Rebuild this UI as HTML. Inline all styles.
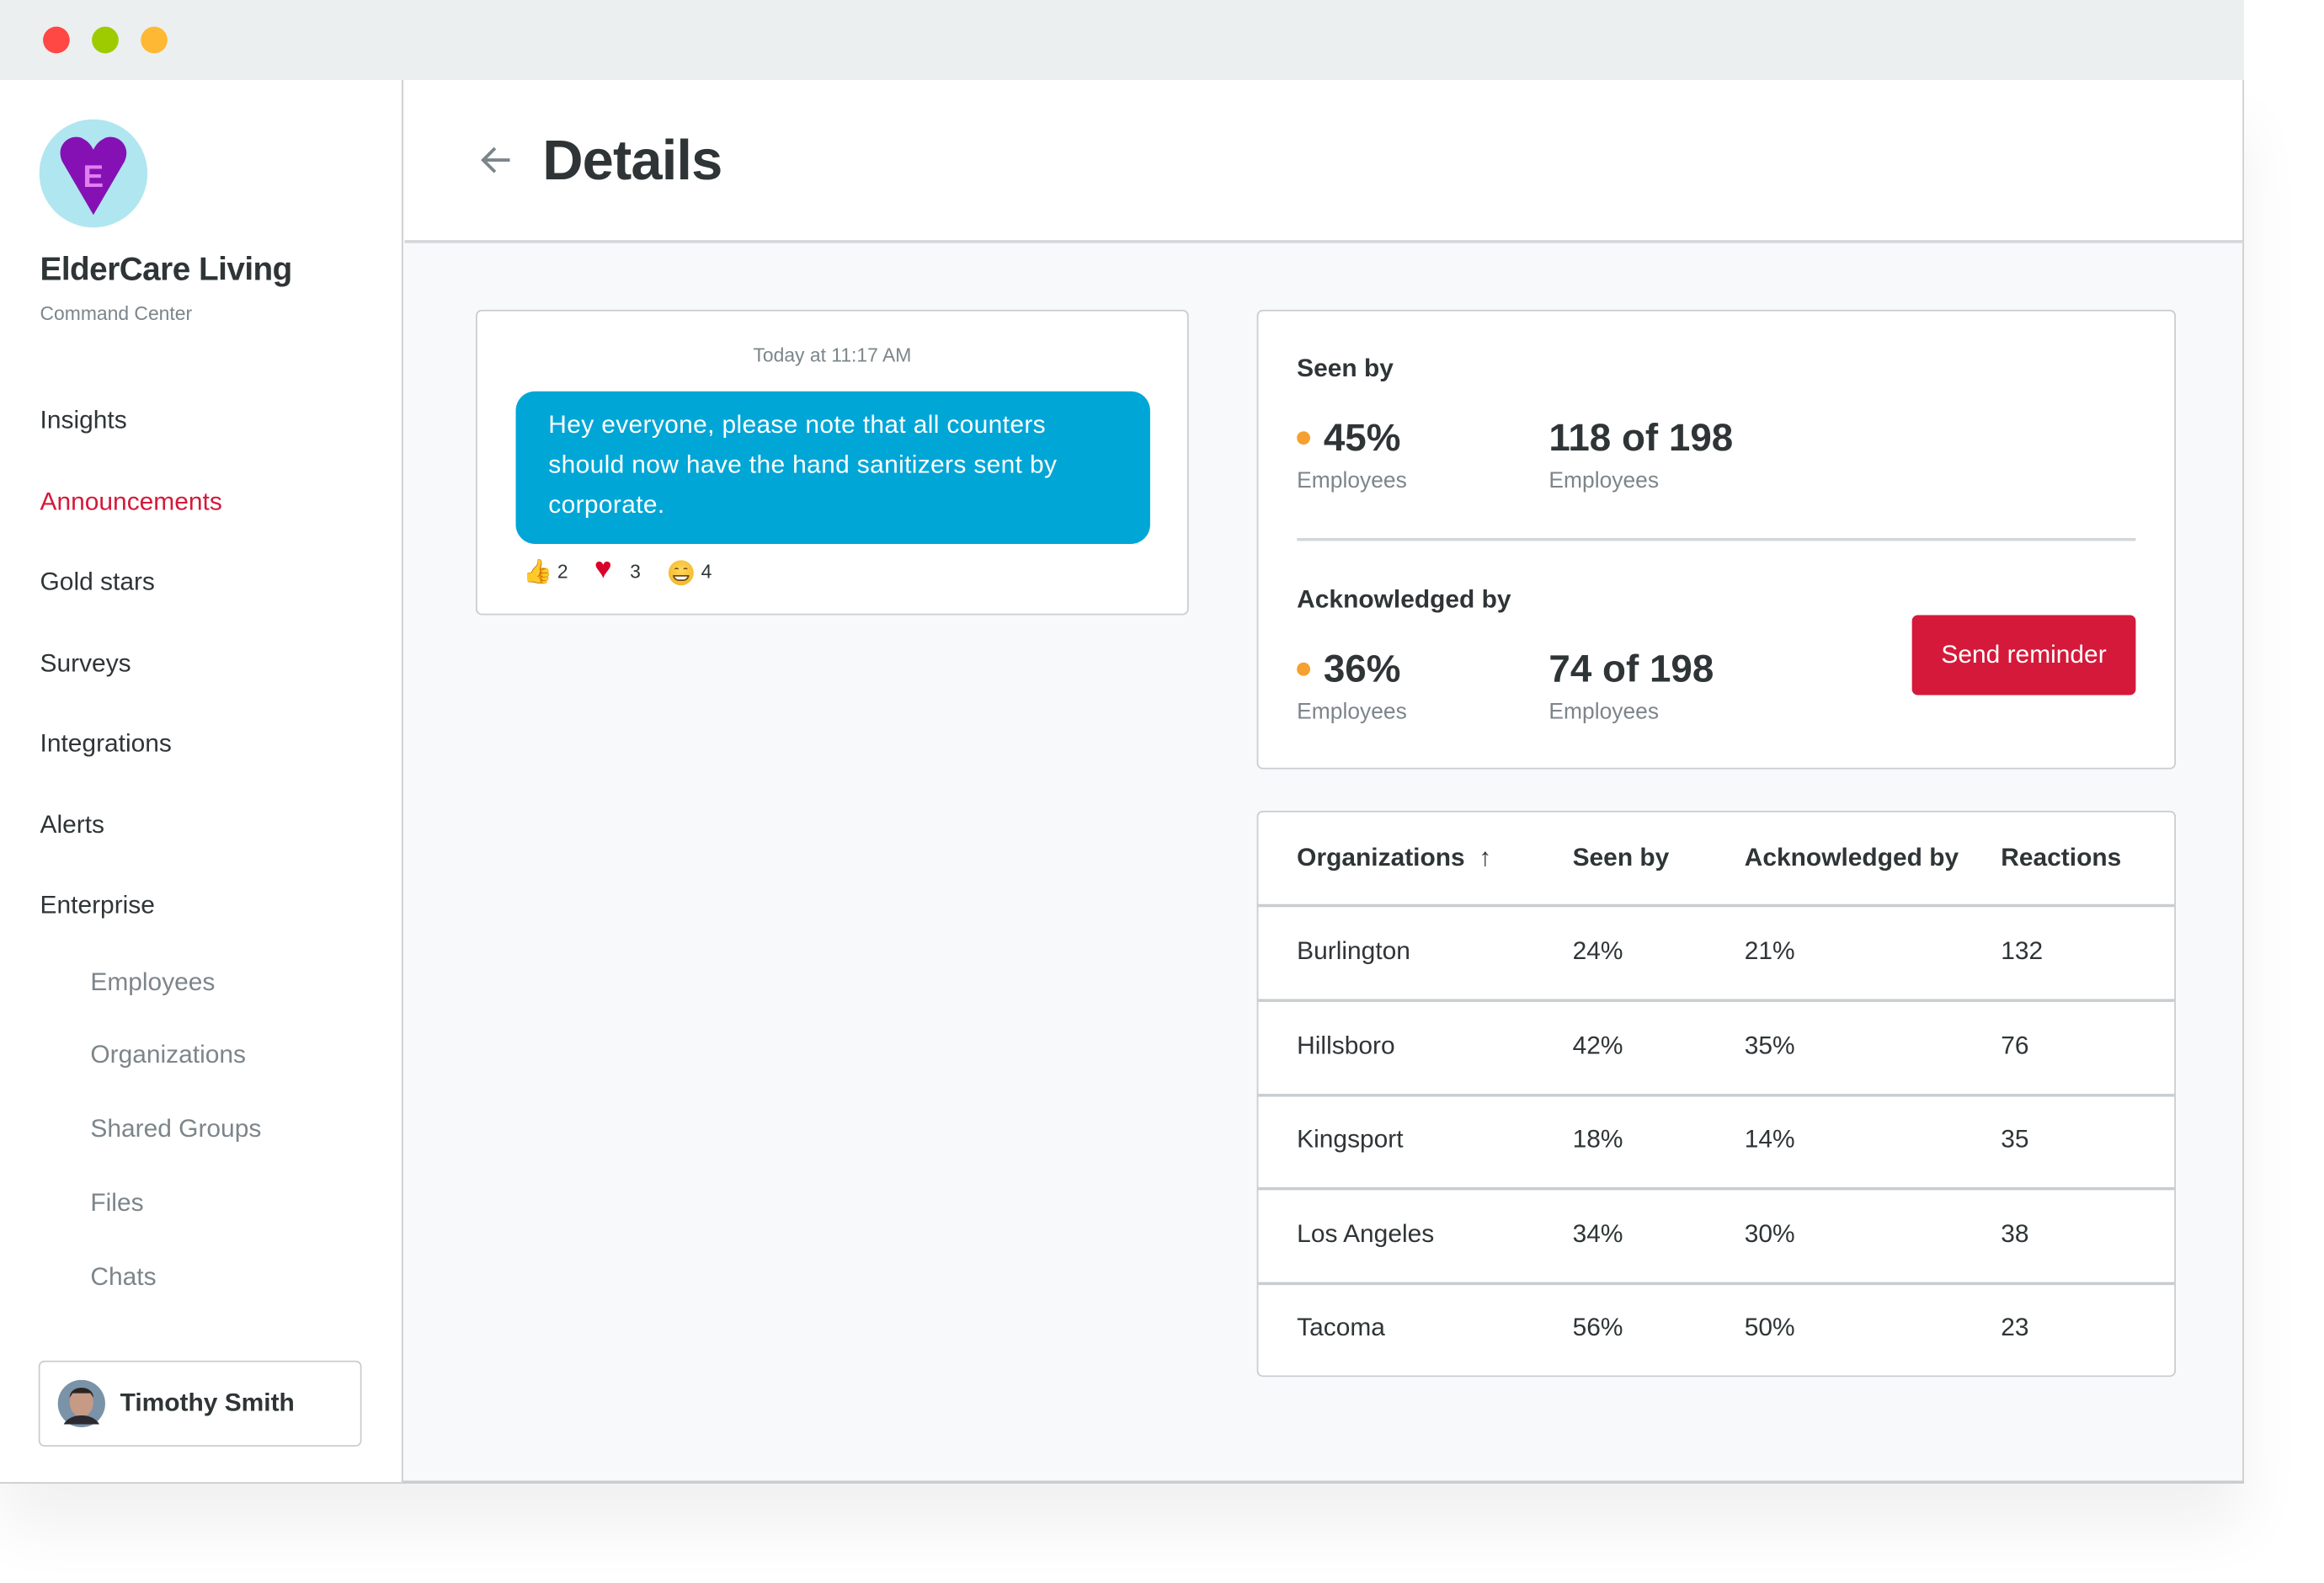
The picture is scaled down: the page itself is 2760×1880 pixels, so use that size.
<!DOCTYPE html>
<html><head><meta charset="utf-8"><style>
html,body{margin:0;padding:0;background:#fff;width:2760px;height:1880px;overflow:hidden;}
#s{position:absolute;left:0;top:0;width:1568px;height:1068px;transform:scale(1.7602);transform-origin:0 0;font-family:"Liberation Sans",sans-serif;color:#2f3537;}
.a{position:absolute;white-space:nowrap;}
.shadow{position:absolute;left:0;top:54px;width:1514px;height:947px;box-shadow:0 30px 40px rgba(0,0,0,0.06);}
.nav{font-size:17px;color:#2f3537;left:27px;}
.sub{font-size:17px;color:#7c858a;left:61px;}
.card{position:absolute;background:#fff;border:1px solid #c9cdd0;border-radius:4px;box-sizing:border-box;}
.lbl{font-size:15px;color:#7c858a;}
.big{font-size:26px;font-weight:bold;}
.th{font-size:17px;font-weight:bold;}
.td{font-size:17px;}
.row{position:absolute;left:0;width:619px;height:1px;background:#c9cdd0;}
.dot{position:absolute;width:9px;height:9px;border-radius:50%;background:#f5a030;}
</style></head><body><div id="s">
<div class="shadow"></div>
<div class="a" style="left:0;top:0;width:1514px;height:54px;background:#ebeff0;"></div>
<div class="a" style="left:29px;top:18px;width:18px;height:18px;border-radius:50%;background:#ff4744;"></div>
<div class="a" style="left:62px;top:18px;width:18px;height:18px;border-radius:50%;background:#9dcb00;"></div>
<div class="a" style="left:95px;top:18px;width:18px;height:18px;border-radius:50%;background:#ffb833;"></div>
<div class="a" style="left:0;top:54px;width:1514px;height:947px;background:#f8f9fa;border-right:1px solid #c9cdd0;border-bottom:2px solid #c9cdd0;box-sizing:border-box;"></div>
<!-- sidebar -->
<div class="a" style="left:0;top:54px;width:272px;height:946px;background:#fff;border-right:1px solid #c9cdd0;box-sizing:border-box;"></div>
<svg class="a" style="left:26px;top:80px" width="74" height="74" viewBox="0 0 74 74"><circle cx="37" cy="37" r="36.5" fill="#b0e6f0"/><path d="M37 65 L16 29 C11 18 21 10 29 13 C33 15 35 17 37 21 C39 17 41 15 45 13 C53 10 63 18 58 29 Z" fill="#8511b5"/><text x="37" y="46" font-family="Liberation Sans" font-weight="bold" font-size="21" fill="#e07ff0" text-anchor="middle">E</text></svg>
<div class="a" style="left:27px;top:169px;font-size:22px;font-weight:bold;letter-spacing:-0.3px;">ElderCare Living</div>
<div class="a" style="left:27px;top:204px;font-size:13px;color:#7c858a;">Command Center</div>
<div class="a nav" style="top:274px;">Insights</div>
<div class="a nav" style="top:329px;color:#d4193a;">Announcements</div>
<div class="a nav" style="top:383px;">Gold stars</div>
<div class="a nav" style="top:438px;">Surveys</div>
<div class="a nav" style="top:492px;">Integrations</div>
<div class="a nav" style="top:547px;">Alerts</div>
<div class="a nav" style="top:601px;">Enterprise</div>
<div class="a sub" style="top:653px;">Employees</div>
<div class="a sub" style="top:702px;">Organizations</div>
<div class="a sub" style="top:752px;">Shared Groups</div>
<div class="a sub" style="top:802px;">Files</div>
<div class="a sub" style="top:852px;">Chats</div>
<div class="card" style="left:26px;top:918px;width:218px;height:58px;"></div>
<svg class="a" style="left:39px;top:931px" width="32" height="32"><circle cx="16" cy="16" r="16" fill="#7a93a8"/><ellipse cx="16" cy="15" rx="8" ry="10" fill="#c79a86"/><path d="M8 12 C8 3 24 3 24 12 L22 9 L10 9 Z" fill="#2a2420"/><path d="M4 30 C8 22 24 22 28 30 Z" fill="#2a2a30"/></svg>
<div class="a" style="left:81px;top:937px;font-size:17px;font-weight:bold;">Timothy Smith</div>
<!-- header -->
<div class="a" style="left:273px;top:54px;width:1240px;height:110px;background:#fff;border-bottom:2px solid #d3d7d9;box-sizing:border-box;"></div>
<svg class="a" style="left:324px;top:98px" width="22" height="20"><path d="M20 10 H3 M10 2 L2 10 L10 18" stroke="#7c858a" stroke-width="2.2" fill="none"/></svg>
<div class="a" style="left:366px;top:88px;font-size:38px;font-weight:bold;letter-spacing:-0.5px;">Details</div>
<!-- message card -->
<div class="card" style="left:321px;top:209px;width:481px;height:206px;"></div>
<div class="a" style="left:321px;width:481px;text-align:center;top:232px;font-size:13px;color:#7c858a;">Today at 11:17 AM</div>
<div class="a" style="left:348px;top:264px;width:428px;height:103px;background:#00a6d6;border-radius:13px;"></div>
<div class="a" style="left:370px;top:273px;width:382px;white-space:normal;font-size:17px;line-height:27px;color:#fff;letter-spacing:0.2px;">Hey everyone, please note that all counters should now have the hand sanitizers sent by corporate.</div>
<div class="a" style="left:353px;top:376px;font-size:16px;">👍</div><div class="a" style="left:376px;top:378px;font-size:13px;">2</div>
<div class="a" style="left:401px;top:373px;font-size:20px;color:#d9002b;">♥</div><div class="a" style="left:425px;top:378px;font-size:13px;">3</div>
<div class="a" style="left:451px;top:378px;width:17px;height:17px;border-radius:50%;background:radial-gradient(circle at 50% 40%,#ffd65a,#f0b020);"></div>
<div class="a" style="left:454px;top:388px;width:11px;height:4px;background:#fff;border-radius:0 0 5px 5px;border:1px solid #6a4a10;box-sizing:border-box;"></div>
<div class="a" style="left:455px;top:383px;width:3px;height:2px;border-top:1px solid #6a4a10;border-radius:50%;"></div>
<div class="a" style="left:461px;top:383px;width:3px;height:2px;border-top:1px solid #6a4a10;border-radius:50%;"></div>
<div class="a" style="left:473px;top:378px;font-size:13px;">4</div>
<!-- stats -->
<div class="card" style="left:848px;top:209px;width:620px;height:310px;"></div>
<div class="a" style="left:875px;top:239px;font-size:17px;font-weight:bold;">Seen by</div>
<div class="dot" style="left:875px;top:291px;"></div>
<div class="a big" style="left:893px;top:280px;">45%</div>
<div class="a big" style="left:1045px;top:280px;">118 of 198</div>
<div class="a lbl" style="left:875px;top:316px;">Employees</div>
<div class="a lbl" style="left:1045px;top:316px;">Employees</div>
<div class="a" style="left:875px;top:363px;width:566px;height:2px;background:#d3d7d9;"></div>
<div class="a" style="left:875px;top:395px;font-size:17px;font-weight:bold;">Acknowledged by</div>
<div class="dot" style="left:875px;top:447px;"></div>
<div class="a big" style="left:893px;top:436px;">36%</div>
<div class="a big" style="left:1045px;top:436px;">74 of 198</div>
<div class="a lbl" style="left:875px;top:472px;">Employees</div>
<div class="a lbl" style="left:1045px;top:472px;">Employees</div>
<div class="a" style="left:1290px;top:415px;width:151px;height:54px;background:#d4193a;border-radius:4px;color:#fff;font-size:17px;text-align:center;line-height:54px;">Send reminder</div>
<!-- table -->
<div class="card" style="left:848px;top:547px;width:620px;height:382px;overflow:hidden;">
<div class="row" style="top:62px;height:2px;"></div>
<div class="row" style="top:126px;height:2px;"></div>
<div class="row" style="top:190px;height:2px;"></div>
<div class="row" style="top:253px;height:2px;"></div>
<div class="row" style="top:317px;height:2px;"></div>
</div>
<div class="a th" style="left:875px;top:569px;">Organizations &nbsp;↑</div>
<div class="a th" style="left:1061px;top:569px;">Seen by</div>
<div class="a th" style="left:1177px;top:569px;">Acknowledged by</div>
<div class="a th" style="left:1350px;top:569px;">Reactions</div>
<div class="a td" style="left:875px;top:632px;">Burlington</div><div class="a td" style="left:1061px;top:632px;">24%</div><div class="a td" style="left:1177px;top:632px;">21%</div><div class="a td" style="left:1350px;top:632px;">132</div>
<div class="a td" style="left:875px;top:696px;">Hillsboro</div><div class="a td" style="left:1061px;top:696px;">42%</div><div class="a td" style="left:1177px;top:696px;">35%</div><div class="a td" style="left:1350px;top:696px;">76</div>
<div class="a td" style="left:875px;top:759px;">Kingsport</div><div class="a td" style="left:1061px;top:759px;">18%</div><div class="a td" style="left:1177px;top:759px;">14%</div><div class="a td" style="left:1350px;top:759px;">35</div>
<div class="a td" style="left:875px;top:823px;">Los Angeles</div><div class="a td" style="left:1061px;top:823px;">34%</div><div class="a td" style="left:1177px;top:823px;">30%</div><div class="a td" style="left:1350px;top:823px;">38</div>
<div class="a td" style="left:875px;top:886px;">Tacoma</div><div class="a td" style="left:1061px;top:886px;">56%</div><div class="a td" style="left:1177px;top:886px;">50%</div><div class="a td" style="left:1350px;top:886px;">23</div>
</div></body></html>
